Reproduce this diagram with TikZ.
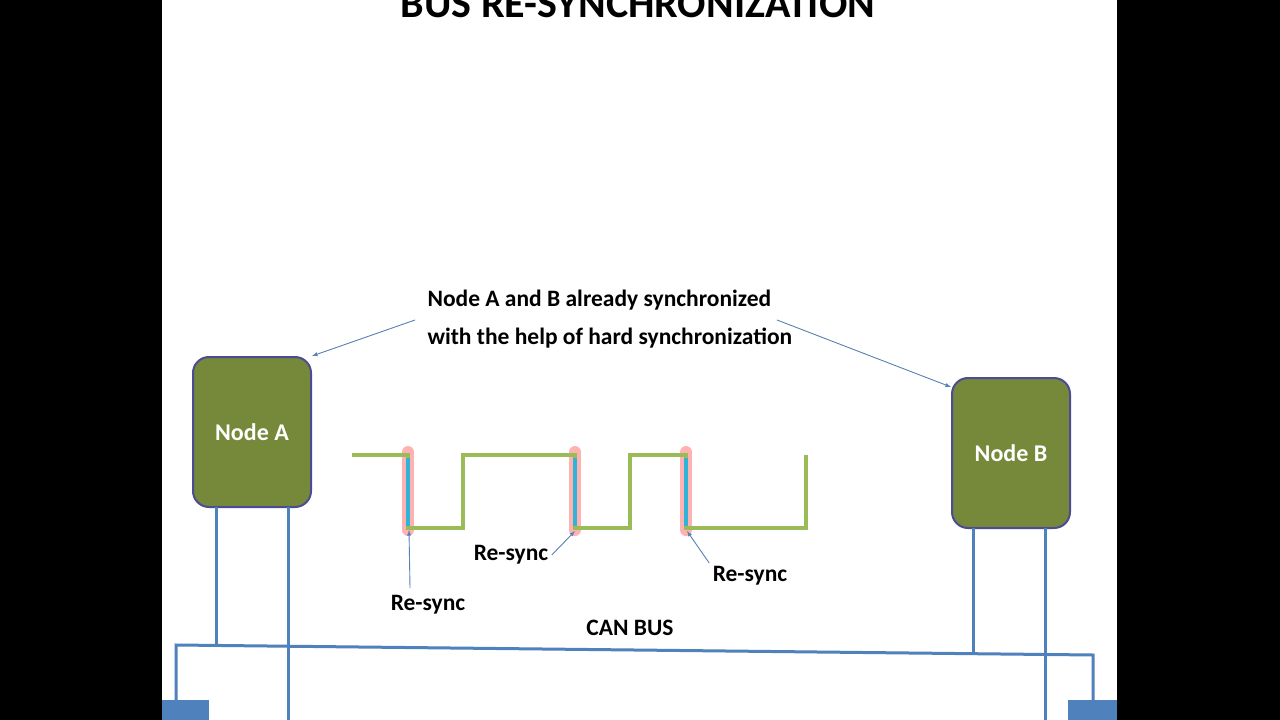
\documentclass[tikz,border=0pt]{standalone}
\usepackage{fontspec}
\setmainfont{Carlito}
\begin{document}
\begin{tikzpicture}[x=1pt,y=-1pt,
  box/.style={draw=blue!40!black!70,line width=2pt,fill=olive0,rounded corners=16pt,minimum width=118pt,minimum height=150pt,text=white,font=\bfseries\fontsize{24}{28}\selectfont},
  wire/.style={draw=blue0,line width=3pt},
  lbl/.style={font=\bfseries\fontsize{23.5}{38}\selectfont,align=left},
  ptr/.style={draw=blue0!80!gray,line width=0.9pt,-latex}]
\definecolor{olive0}{HTML}{76883A}
\definecolor{blue0}{HTML}{4F81BD}
\definecolor{wave}{HTML}{9BBB59}
\fill[black] (0,0) rectangle (1280,720);
\fill[white] (162,0) rectangle (1117,720);
\useasboundingbox (0,0) rectangle (1280,720);
\node[font=\bfseries\fontsize{42}{46}\selectfont] (title) at (638,4) {BUS RE-SYNCHRONIZATION};
\node[box] (A) at (252,432) {Node A};
\node[box] (B) at (1011,453) {Node B};
\coordinate (bl) at (176,645); \coordinate (br) at (1093,655);
\draw[wire] (176,700) -- (bl) -- (br) -- (1093,700);
\fill[blue0] (162,700) rectangle (209,720);
\fill[blue0] (1068,700) rectangle (1117,720);
\draw[wire] (216,507) -- (216,645);
\draw[wire] (288,507) -- (288,720);
\draw[wire] (973,528) -- (973,655);
\draw[wire] (1045,528) -- (1045,720);
\node[lbl] (cb) at (630,628) {CAN BUS};
% waveform
\foreach \x in {408,575,686}{
  \draw[red!30,line width=12pt,line cap=round] (\x,452) -- (\x,530);}
\draw[wave,line width=3.5pt] (352,455) -- (408,455) -- (408,528) -- (463,528) -- (463,455) -- (575,455) -- (575,528) -- (630,528) -- (630,455) -- (686,455) -- (686,528) -- (806,528) -- (806,455);
\foreach \x in {408,575,686}{
  \draw[blue0!60!cyan,line width=4pt] (\x,458) -- (\x,526);}
\node[lbl,anchor=west] (t) at (424,319) {Node A and B already synchronized\\with the help of hard synchronization};
\draw[ptr] (415,320) -- (A.north east);
\draw[ptr] (777,320) -- ([yshift=-10pt]B.north west);
\node[lbl] (r1) at (428,605) {Re-sync};
\node[lbl] (r2) at (511,555) {Re-sync};
\node[lbl] (r3) at (750,576) {Re-sync};
\draw[ptr] (410,588) -- (409,530);
\draw[ptr] (r2.east) -- (575,531);
\draw[ptr] (r3.north west) -- (687,531);
\end{tikzpicture}
\end{document}
